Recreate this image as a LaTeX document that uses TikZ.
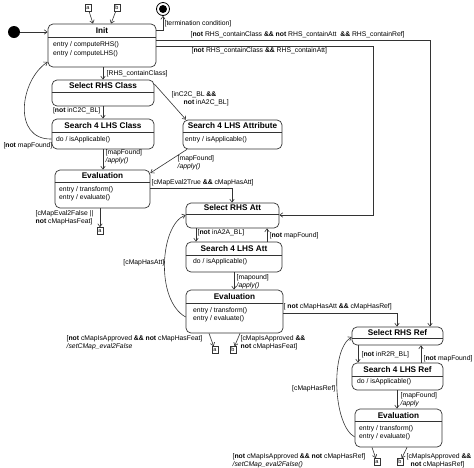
\documentclass[tikz,border=0pt]{standalone}
\usepackage{fontspec}
\setmainfont{Liberation Sans}
\usetikzlibrary{arrows.meta}

\newcommand{\kwnot}{\textbf{not}}
\newcommand{\kwand}{\textbf{\&\&}}

\tikzset{
  state/.style={draw=black!80, line width=0.7pt, rounded corners=5pt, inner sep=0pt},
  divider/.style={draw=black!80, line width=0.7pt},
  title/.style={font=\fontsize{8.2}{9}\selectfont\bfseries, inner sep=0pt},
  body/.style={font=\fontsize{6.8}{8.5}\selectfont, anchor=west, align=left, inner sep=0pt},
  guard/.style={font=\fontsize{6.8}{8}\selectfont, inner sep=0.5pt, align=left},
  pseudo/.style={draw=black!80, line width=0.6pt, font=\fontsize{5.5}{6}\selectfont, inner sep=0.6pt, minimum width=6pt, minimum height=7pt},
  tr/.style={draw=black!80, line width=0.6pt, -{Straight Barb[length=3pt,width=4.5pt]}}
}

\begin{document}
\begin{tikzpicture}[x=1pt,y=-1pt]
\useasboundingbox (0,0) rectangle (474,467);

% Initial and final states
\node[circle, fill=black, minimum size=12pt, inner sep=0pt] (start) at (14,32) {};
\node[circle, draw=black, line width=0.8pt, minimum size=13pt, inner sep=0pt] (stop) at (163,9) {};
\node[circle, fill=black, minimum size=8pt, inner sep=0pt] (stopDot) at (163,9) {};

% Init
\node[state, minimum width=108pt, minimum height=43pt] (init) at (102,45.5) {};
\draw[divider] (init.west |- 0,37) -- (init.east |- 0,37);
\node[title] (initT) at (102,31) {Init};
\node[body] (initB) at (53,49) {entry / computeRHS()\\entry / computeLHS()};

% Class branch
\node[state, minimum width=102pt, minimum height=26pt] (selClass) at (103,93) {};
\draw[divider] (selClass.west |- 0,92) -- (selClass.east |- 0,92);
\node[title] (selClassT) at (103,86) {Select RHS Class};

\node[state, minimum width=102pt, minimum height=30pt] (lhsClass) at (103,134) {};
\draw[divider] (lhsClass.west |- 0,132) -- (lhsClass.east |- 0,132);
\node[title] (lhsClassT) at (103,126) {Search 4 LHS Class};
\node[body] (lhsClassB) at (56,140) {do / isApplicable()};

\node[state, minimum width=99pt, minimum height=29pt] (lhsAttr) at (232.5,134.5) {};
\draw[divider] (lhsAttr.west |- 0,132) -- (lhsAttr.east |- 0,132);
\node[title] (lhsAttrT) at (232.5,126) {Search 4 LHS Attribute};
\node[body] (lhsAttrB) at (185,140) {entry / isApplicable()};

\node[state, minimum width=95pt, minimum height=38pt] (evalClass) at (102.5,189) {};
\draw[divider] (evalClass.west |- 0,182) -- (evalClass.east |- 0,182);
\node[title] (evalClassT) at (102.5,176) {Evaluation};
\node[body] (evalClassB) at (59,193.5) {entry / transform()\\entry / evaluate()};

% Att branch
\node[state, minimum width=93pt, minimum height=25pt] (selAtt) at (232.5,215.5) {};
\draw[divider] (selAtt.west |- 0,214) -- (selAtt.east |- 0,214);
\node[title] (selAttT) at (232.5,208) {Select RHS Att};

\node[state, minimum width=96pt, minimum height=30pt] (lhsAtt) at (234,257) {};
\draw[divider] (lhsAtt.west |- 0,255) -- (lhsAtt.east |- 0,255);
\node[title] (lhsAttT) at (234,249) {Search 4 LHS Att};
\node[body] (lhsAttB) at (193,262) {do / isApplicable()};

\node[state, minimum width=97pt, minimum height=43pt] (evalAtt) at (234.5,311.5) {};
\draw[divider] (evalAtt.west |- 0,303) -- (evalAtt.east |- 0,303);
\node[title] (evalAttT) at (234.5,297) {Evaluation};
\node[body] (evalAttB) at (193,314.5) {entry / transform()\\entry / evaluate()};

% Ref branch
\node[state, minimum width=91pt, minimum height=18pt] (selRef) at (397.5,336) {};
\draw[divider] (selRef.west |- 0,338) -- (selRef.east |- 0,338);
\node[title] (selRefT) at (397.5,332.5) {Select RHS Ref};

\node[state, minimum width=91pt, minimum height=27pt] (lhsRef) at (397.5,376.5) {};
\draw[divider] (lhsRef.west |- 0,376) -- (lhsRef.east |- 0,376);
\node[title] (lhsRefT) at (397.5,369.5) {Search 4 LHS Ref};
\node[body] (lhsRefB) at (357,382) {do / isApplicable()};

\node[state, minimum width=87pt, minimum height=38pt] (evalRef) at (398.5,428) {};
\draw[divider] (evalRef.west |- 0,421) -- (evalRef.east |- 0,421);
\node[title] (evalRefT) at (398.5,416) {Evaluation};
\node[body] (evalRefB) at (359,432.5) {entry / transform()\\entry / evaluate()};

% Junction boxes
\node[pseudo] (aInit) at (88,8) {a};
\node[pseudo] (bInit) at (117,8) {b};
\node[pseudo] (aClass) at (100,231) {a};
\node[pseudo] (aAtt) at (215,350) {a};
\node[pseudo] (bAtt) at (233,350) {b};
\node[pseudo] (aRef) at (377,462) {a};
\node[pseudo] (bRef) at (400,462) {b};

% Transitions
\draw[tr] (start) -- (init.west |- start);
\draw[tr] (aInit) -- (init.north -| 93,0);
\draw[tr] (bInit) -- (init.north -| 111,0);
\draw[tr] (init.east |- 0,30) -| (stop);
\draw[tr] (init.east |- 0,40) -| (selRef.north -| 430,0);
\draw[tr] (init.east |- 0,46) -| (373,215) -- (selAtt.east |- 0,215);
\draw[tr] (init.south -| 103,0) -- (selClass.north -| 103,0);
\draw[tr] (selClass.south -| 103,0) -- (lhsClass.north -| 103,0);
\draw[tr] (selClass.east |- 0,84) -- (lhsAttr.north -| 186,0);
\draw[tr] (lhsClass.west |- 0,139) .. controls (12,140) and (20,80) .. (init.west |- 0,62);
\draw[tr] (lhsClass.south -| 103,0) -- (evalClass.north -| 103,0);
\draw[tr] (lhsAttr.south -| 187,0) -- (evalClass.east |- 0,173);
\draw[tr] (evalClass.east |- 0,188) -| (selAtt.north -| 232,0);
\draw[tr] (evalClass.south -| 100,0) -- (aClass);
\draw[tr] (selAtt.south -| 196,0) -- (lhsAtt.north -| 196,0);
\draw[tr] (lhsAtt.north -| 267,0) -- (selAtt.south -| 267,0);
\draw[tr] (lhsAtt.south -| 234,0) -- (evalAtt.north -| 234,0);
\draw[tr] (evalAtt.west |- 0,317) .. controls (155,300) and (160,225) .. (selAtt.west |- 0,215);
\draw[tr] (evalAtt.east |- 0,313) -| (selRef.north -| 397,0);
\draw[tr] (evalAtt.south -| 209,0) -- (aAtt);
\draw[tr] (evalAtt.south -| 240,0) -- (bAtt);
\draw[tr] (selRef.south -| 358,0) -- (lhsRef.north -| 358,0);
\draw[tr] (lhsRef.north -| 421,0) -- (selRef.south -| 421,0);
\draw[tr] (lhsRef.south -| 397,0) -- (evalRef.north -| 397,0);
\draw[tr] (evalRef.west |- 0,437) .. controls (333,425) and (330,350) .. (selRef.west |- 0,337);
\draw[tr] (evalRef.south -| 372,0) -- (aRef);
\draw[tr] (evalRef.south -| 407,0) -- (bRef);

% Guards
\node[guard, anchor=west] (gTerm) at (164,24) {[termination condition]};
\node[guard, anchor=south west] (gRef) at (190,39) {[\kwnot\ RHS\_containClass \kwand\ \kwnot\ RHS\_containAtt \ \kwand\ RHS\_containRef]};
\node[guard, anchor=north west] (gAtt) at (191,47) {[\kwnot\ RHS\_containClass \kwand\ RHS\_containAtt]};
\node[guard, anchor=west] (gClass) at (106,74) {[RHS\_containClass]};
\node[guard, anchor=east] (gC2C) at (101,111) {[\kwnot\ inC2C\_BL]};
\node[guard, anchor=north west] (gA2C) at (171,91) {[inC2C\_BL \kwand\\\hspace*{12pt}\kwnot\ inA2C\_BL]};
\node[guard, anchor=east] (gNotFound1) at (53,146) {[\kwnot\ mapFound]};
\node[guard, anchor=west] (gFound1) at (105,157) {[mapFound]\\\textit{/apply()}};
\node[guard, anchor=west] (gFound2) at (177,163) {[mapFound]\\\textit{/apply()}};
\node[guard, anchor=south west] (gEvalTrue) at (151,187) {[cMapEval2True \kwand\ cMapHasAtt]};
\node[guard, anchor=west] (gEvalFalse) at (35,218) {[cMapEval2False ||\\\kwnot\ cMapHasFeat]};
\node[guard, anchor=west] (gA2A) at (197,233) {[\kwnot\ inA2A\_BL]};
\node[guard, anchor=west] (gNotFound2) at (269,236) {[\kwnot\ mapFound]};
\node[guard, anchor=west] (gFound3) at (236,282) {[mapound]\\\textit{/apply()}};
\node[guard, anchor=east] (gHasAtt) at (165,263) {[cMapHasAtt]};
\node[guard, anchor=south west] (gHasRef) at (283,311) {[ \kwnot\ cMapHasAtt \kwand\ cMapHasRef]};
\node[guard, anchor=west] (gNotAppr1) at (66,343) {[\kwnot\ cMapIsApproved \kwand\ \kwnot\ cMapHasFeat]\\\textit{/setCMap\_eval2False}};
\node[guard, anchor=west] (gAppr1) at (240,343) {[cMapIsApproved \kwand\\\kwnot\ cMapHasFeat]};
\node[guard, anchor=west] (gR2R) at (361,355) {[\kwnot\ inR2R\_BL]};
\node[guard, anchor=west] (gNotFound3) at (423,359) {[\kwnot\ mapFound]};
\node[guard, anchor=west] (gFound4) at (400,400) {[mapFound]\\\textit{/apply}};
\node[guard, anchor=east] (gHasRef2) at (336,389) {[cMapHasRef]};
\node[guard, anchor=west] (gNotAppr2) at (232,461) {[\kwnot\ cMapIsApproved \kwand\ \kwnot\ cMapHasRef]\\\textit{/setCMap\_eval2False()}};
\node[guard, anchor=west] (gAppr2) at (406,461) {[cMapIsApproved \kwand\\\hspace*{4pt}\kwnot\ cMapHasRef]};

\end{tikzpicture}
\end{document}
